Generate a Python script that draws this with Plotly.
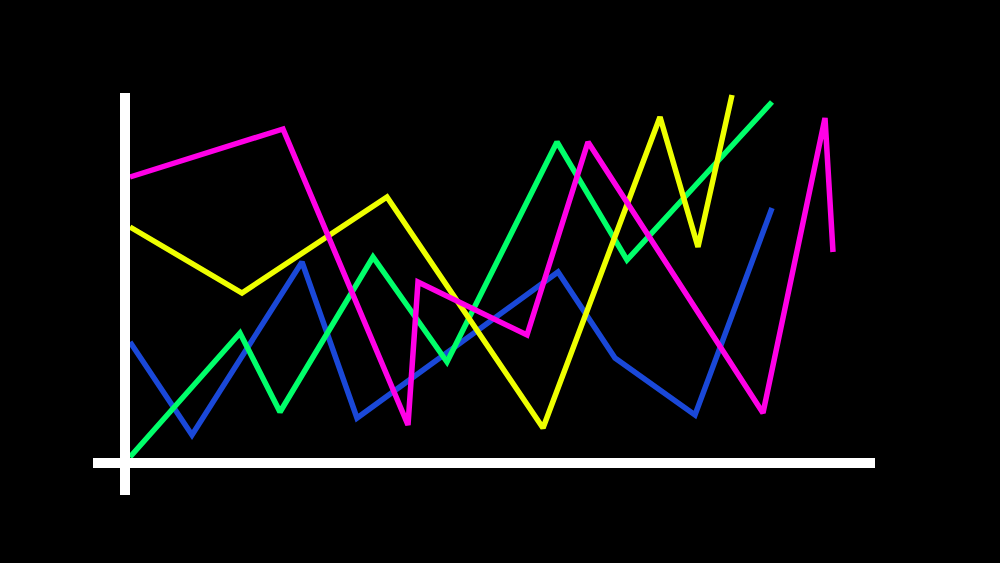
import plotly.graph_objects as go

# four series, values (x = time, y = value)
magenta_x = [0.5, 15.8, 28.3, 29.3, 40.2, 46.3, 63.8, 70.0, 70.8]
magenta_y = [28.6, 33.4, 3.8, 18.1, 12.8, 32.1, 5.0, 34.5, 21.1]

yellow_x = [0.5, 11.7, 26.2, 41.8, 53.5, 57.3, 60.7]
yellow_y = [23.6, 17.0, 26.6, 3.5, 34.6, 21.6, 36.8]

green_x = [0.5, 11.5, 15.5, 24.8, 32.2, 43.2, 50.2, 64.7]
green_y = [0.6, 13.0, 5.1, 20.6, 10.1, 32.1, 20.3, 36.1]

blue_x = [0.5, 6.7, 17.7, 23.2, 43.3, 49.0, 57.0, 64.7]
blue_y = [12.1, 2.8, 20.1, 4.5, 19.1, 10.5, 4.8, 25.5]

series = [
    (blue_x, blue_y, '#1a48d8'),
    (green_x, green_y, '#00ff6a'),
    (yellow_x, yellow_y, '#eeff00'),
    (magenta_x, magenta_y, '#ff00e6'),
]

fig = go.Figure()
for xs, ys, col in series:
    fig.add_trace(go.Scatter(x=xs, y=ys, mode='lines',
                             line=dict(color=col, width=5.5),
                             hoverinfo='skip', showlegend=False))

# white axes, overshooting past the origin like in the drawing
fig.add_shape(type='line', x0=0, x1=0, y0=-3.2, y1=37.0,
              line=dict(color='white', width=10), layer='above')
fig.add_shape(type='line', x0=-3.2, x1=75.0, y0=0, y1=0,
              line=dict(color='white', width=10), layer='above')

fig.update_layout(
    width=1000, height=563,
    margin=dict(l=0, r=0, t=0, b=0),
    paper_bgcolor='black', plot_bgcolor='black',
    xaxis=dict(range=[-12.5, 87.5], visible=False, fixedrange=True),
    yaxis=dict(range=[-10.0, 46.3], visible=False, fixedrange=True),
)

# drop the browser's default page margin so the black fills the window
fig.write_html("out.html", config={'displayModeBar': False},
               post_script="document.body.style.margin='0';"
                           "document.body.style.background='black';")
